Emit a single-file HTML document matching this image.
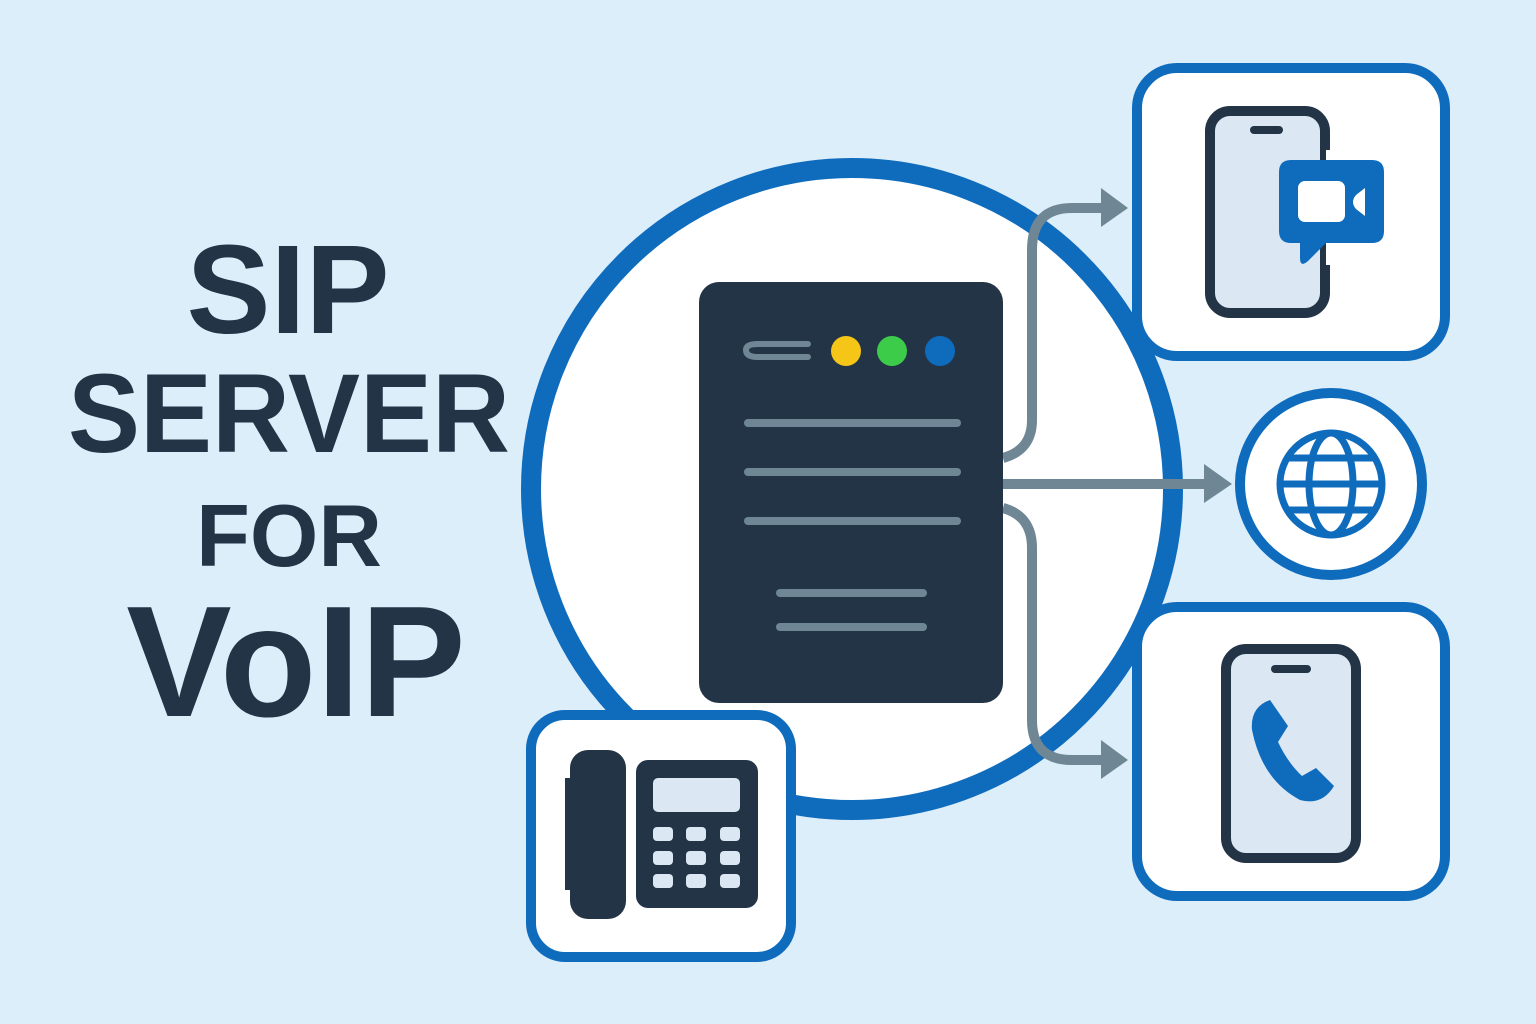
<!DOCTYPE html>
<html><head><meta charset="utf-8"><style>
html,body{margin:0;padding:0;background:#ddeefb}
svg{display:block}
text{font-family:"Liberation Sans",sans-serif;font-weight:bold;fill:#243447;text-anchor:middle}
</style></head><body>
<svg width="1536" height="1024" viewBox="0 0 1536 1024">
<rect width="1536" height="1024" fill="#ddeefb"/>
<text x="288" y="333" font-size="126">SIP</text>
<text x="289" y="452" font-size="112" textLength="442" lengthAdjust="spacingAndGlyphs">SERVER</text>
<text x="289" y="566" font-size="88">FOR</text>
<text x="296" y="716" font-size="158">VoIP</text>

<circle cx="852" cy="489" r="321" fill="#fff" stroke="#0f6cbd" stroke-width="20"/>

<!-- arrows -->
<g fill="none" stroke="#6f8795" stroke-width="10">
<path d="M1003,458 Q1032,450 1032,420 L1032,250 Q1032,208 1072,208 L1104,208"/>
<path d="M1003,484 L1206,484"/>
<path d="M1003,508 Q1032,516 1032,548 L1032,720 Q1032,760 1072,760 L1104,760"/>
</g>
<g fill="#6f8795">
<polygon points="1101,188 1128,208 1101,227"/>
<polygon points="1204,464 1232,484 1204,503"/>
<polygon points="1101,740 1128,760 1101,779"/>
</g>

<!-- server -->
<rect x="699" y="282" width="304" height="421" rx="20" fill="#243447"/>
<g fill="none" stroke="#6f8795" stroke-width="6" stroke-linecap="round">
<path d="M808,344 L758,344 Q746,344 746,350 Q746,357 758,357 L808,357"/>
</g>
<circle cx="846" cy="351" r="15" fill="#f5c518"/>
<circle cx="892" cy="351" r="15" fill="#3dcc4a"/>
<circle cx="940" cy="351" r="15" fill="#0f6cbd"/>
<g stroke="#6f8795" stroke-width="8" stroke-linecap="round">
<line x1="748" y1="423" x2="957" y2="423"/>
<line x1="748" y1="472" x2="957" y2="472"/>
<line x1="748" y1="521" x2="957" y2="521"/>
<line x1="780" y1="593" x2="923" y2="593"/>
<line x1="780" y1="627" x2="923" y2="627"/>
</g>

<!-- top right box -->
<rect x="1137" y="68" width="308" height="288" rx="40" fill="#fff" stroke="#0f6cbd" stroke-width="10"/>
<rect x="1210" y="111" width="115" height="202" rx="20" fill="#dbe7f3" stroke="#243447" stroke-width="10"/>
<line x1="1254" y1="130" x2="1279" y2="130" stroke="#243447" stroke-width="8" stroke-linecap="round"/>
<rect x="1326" y="150" width="10" height="115" fill="#fff"/>
<path d="M1291,160 L1372,160 Q1384,160 1384,172 L1384,231 Q1384,243 1372,243 L1326,243 L1308,261 Q1300,268 1300,258 L1300,243 L1291,243 Q1279,243 1279,231 L1279,172 Q1279,160 1291,160 Z" fill="#0f6cbd"/>
<rect x="1298" y="181" width="47" height="41" rx="7" fill="#fff"/>
<path d="M1365,188 L1365,216 L1356,209 Q1350,202 1356,195 Z" fill="#fff"/>

<!-- globe -->
<circle cx="1331" cy="484" r="91" fill="#fff" stroke="#0f6cbd" stroke-width="10"/>
<g fill="none" stroke="#0f6cbd" stroke-width="7">
<circle cx="1331" cy="484" r="51"/>
<ellipse cx="1331" cy="484" rx="22" ry="51"/>
<line x1="1280" y1="484" x2="1382" y2="484"/>
<path d="M1288,458 L1374,458 M1288,510 L1374,510"/>
</g>

<!-- bottom right box -->
<rect x="1137" y="607" width="308" height="289" rx="40" fill="#fff" stroke="#0f6cbd" stroke-width="10"/>
<rect x="1226" y="649" width="130" height="209" rx="20" fill="#dbe7f3" stroke="#243447" stroke-width="10"/>
<line x1="1275" y1="669" x2="1307" y2="669" stroke="#243447" stroke-width="8" stroke-linecap="round"/>
<path d="M1270,700 L1288,726 L1278,742 Q1288,763 1302,776 L1316,768 L1334,786 Q1322,806 1300,800 Q1262,780 1252,730 Q1250,707 1270,700 Z" fill="#0f6cbd"/>

<!-- desk phone box -->
<rect x="531" y="715" width="260" height="242" rx="34" fill="#fff" stroke="#0f6cbd" stroke-width="10"/>
<rect x="570" y="750" width="56" height="169" rx="18" fill="#243447"/>
<rect x="565" y="778" width="8" height="112" fill="#243447"/>
<rect x="636" y="760" width="122" height="148" rx="12" fill="#243447"/>
<rect x="653" y="778" width="87" height="34" rx="5" fill="#dbe7f3"/>
<g fill="#dbe7f3">
<rect x="653" y="827" width="20" height="14" rx="4"/><rect x="686" y="827" width="20" height="14" rx="4"/><rect x="720" y="827" width="20" height="14" rx="4"/>
<rect x="653" y="851" width="20" height="14" rx="4"/><rect x="686" y="851" width="20" height="14" rx="4"/><rect x="720" y="851" width="20" height="14" rx="4"/>
<rect x="653" y="874" width="20" height="14" rx="4"/><rect x="686" y="874" width="20" height="14" rx="4"/><rect x="720" y="874" width="20" height="14" rx="4"/>
</g>
</svg>
</body></html>
